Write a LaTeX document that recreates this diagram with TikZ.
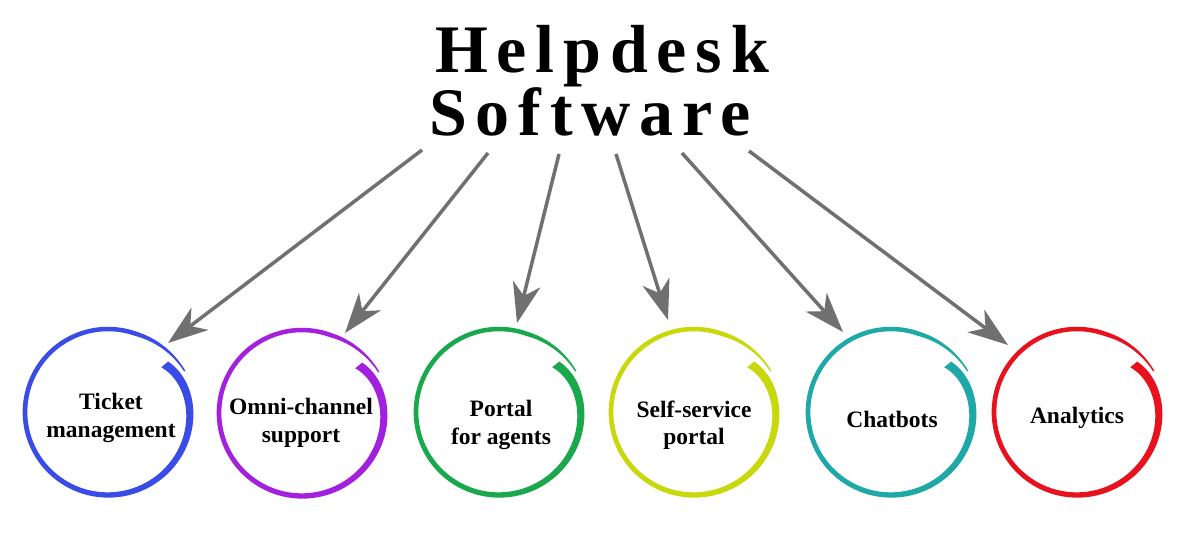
\documentclass[tikz,border=0pt]{standalone}
\usepackage{fontspec}
\setmainfont{Liberation Serif}
\usetikzlibrary{arrows.meta}
\definecolor{arrgray}{RGB}{112,112,112}
\definecolor{cblue}{RGB}{58,76,232}
\definecolor{cpurple}{RGB}{162,32,222}
\definecolor{cgreen}{RGB}{26,168,76}
\definecolor{cyellow}{RGB}{200,216,12}
\definecolor{cteal}{RGB}{30,168,168}
\definecolor{cred}{RGB}{232,18,30}
\tikzset{
  declare function={rr(\t)=83-9*exp(-\t/20)+4*max(0,(\t-330)/42);
                    ww(\t)=(4.4+4.6*exp(-\t/80))*(1-0.7*max(0,(\t-330)/42));},
  arr/.style={draw=arrgray, line width=3.5pt, -{Stealth[length=40pt,width=28pt,inset=12pt]}},
  lbl/.style={font=\fontsize{23.5}{27.5}\selectfont\bfseries, align=center, inner sep=0pt},
  ttl/.style={font=\fontsize{68}{59}\selectfont\bfseries\addfontfeature{LetterSpace=13}, align=left, anchor=north west, inner sep=0pt},
}
\newcommand\brushring[2]{%
  \fill[#2, shift={(#1)}]
    plot[domain=0:372, samples=140, variable=\t] ({40-\t}:{(rr(\t)+ww(\t)/2)*1pt})
    -- plot[domain=372:0, samples=140, variable=\t] ({40-\t}:{(rr(\t)-ww(\t)/2)*1pt})
    -- cycle;}
\begin{document}
\begin{tikzpicture}[x=1pt,y=-1pt]
\fill[white] (0,0) rectangle (1200,558);
\useasboundingbox (0,0) rectangle (1200,558);
% title
\node[ttl] (title) at (429,25) {\hspace*{6pt}Helpdesk\\Software};
% ring centres
\coordinate (o1) at (108,412);
\coordinate (o2) at (302,413);
\coordinate (o3) at (499,412);
\coordinate (o4) at (694,412);
\coordinate (o5) at (891,412);
\coordinate (o6) at (1077,412);
\brushring{o1}{cblue}
\brushring{o2}{cpurple}
\brushring{o3}{cgreen}
\brushring{o4}{cyellow}
\brushring{o5}{cteal}
\brushring{o6}{cred}
% labels
\node[lbl] (t1) at (111,418) {Ticket\\management};
\node[lbl] (t2) at (301,423) {Omni-channel\\support};
\node[lbl] (t3) at (501,425) {Portal\\for agents};
\node[lbl] (t4) at (694,425) {Self-service\\portal};
\node[lbl] (t5) at (892,419) {Chatbots};
\node[lbl] (t6) at (1077,418) {Analytics};
% arrows
\coordinate (s1) at (422,150); \coordinate (e1) at (168,343);
\coordinate (s2) at (488,153); \coordinate (e2) at (345,333);
\coordinate (s3) at (559,154); \coordinate (e3) at (517,323);
\coordinate (s4) at (616,154); \coordinate (e4) at (668,320);
\coordinate (s5) at (682,153); \coordinate (e5) at (843,332);
\coordinate (s6) at (749,151); \coordinate (e6) at (1008,345);
\foreach \i in {1,...,6} {\draw[arr] (s\i) -- (e\i);}
\end{tikzpicture}
\end{document}
